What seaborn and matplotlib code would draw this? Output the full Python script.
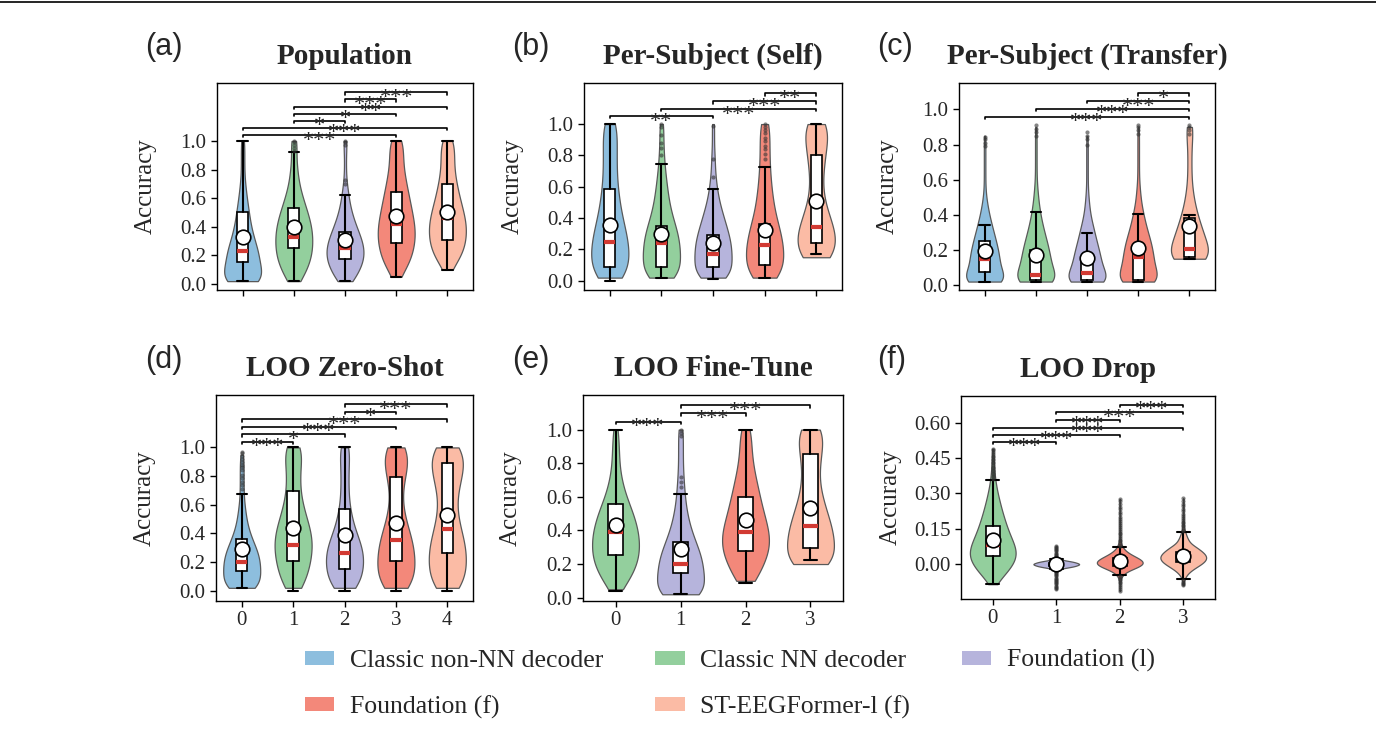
import numpy as np
import pandas as pd
import matplotlib
matplotlib.use("Agg")
import matplotlib.pyplot as plt
import seaborn as sns
from matplotlib.lines import Line2D
from matplotlib.patches import Patch

# ---------- style ----------
sns.set_theme(style="ticks")
plt.rcParams["font.family"] = ["Liberation Serif", "DejaVu Serif"]
plt.rcParams["axes.edgecolor"] = "black"
plt.rcParams["axes.linewidth"] = 1.0

# ---------- data ----------
group_names = ["Classic non-NN decoder", "Classic NN decoder", "Foundation (l)",
               "Foundation (f)", "ST-EEGFormer-l (f)"]
group_colors = ["#8dbede", "#93cf9d", "#b6b4dc", "#f3887a", "#fbbba5"]

# accuracy grid used for the violin shapes of panels a-e
acc_grid = [0.02, 0.05, 0.10, 0.15, 0.20, 0.25, 0.30, 0.35, 0.40, 0.45, 0.50,
            0.55, 0.60, 0.65, 0.70, 0.75, 0.80, 0.85, 0.90, 0.95, 1.00]

# (a) Population
pop_counts = [
    [30, 20, 20, 20, 20, 18, 14, 12, 10, 8, 8, 6, 5, 4, 3, 2, 2, 2, 2, 2, 3],
    [6, 8, 14, 17, 19, 20, 20, 20, 19, 17, 15, 12, 10, 7, 6, 4, 4, 3, 2, 3, 5],
    [6, 10, 15, 19, 20, 20, 18, 15, 12, 9, 7, 5, 4, 3, 2, 1, 1, 1, 1, 1, 3],
    [0, 4, 10, 14, 17, 18, 20, 20, 20, 18, 17, 15, 14, 12, 11, 9, 8, 7, 7, 7, 10],
    [0, 0, 4, 10, 15, 18, 19, 20, 20, 19, 17, 15, 13, 11, 10, 8, 7, 7, 7, 7, 9],
]
pop_q1 = [0.155, 0.255, 0.175, 0.29, 0.31]
pop_med = [0.23, 0.325, 0.25, 0.42, 0.46]
pop_q3 = [0.50, 0.53, 0.36, 0.64, 0.70]
pop_mean = [0.33, 0.40, 0.31, 0.475, 0.505]
pop_wlo = [0.02, 0.02, 0.02, 0.05, 0.10]
pop_whi = [1.00, 0.92, 0.62, 1.00, 1.00]
pop_fliers = [[], [0.93, 0.95, 0.97, 0.99, 1.0], [0.70, 0.73, 0.97, 0.99, 1.0], [], []]
pop_sig = [(0, 3, "***", 1.04), (0, 4, "***", 1.09), (1, 2, "*", 1.14), (1, 3, "*", 1.19),
           (1, 4, "**", 1.24), (2, 3, "***", 1.29), (2, 4, "***", 1.34)]

# (b) Per-Subject (Self)
self_counts = [
    [14, 18, 19, 20, 20, 19, 17, 15, 13, 11, 10, 9, 8, 7, 7, 7, 7, 7, 7, 7, 11],
    [14, 18, 20, 20, 20, 19, 18, 15, 12, 10, 8, 7, 6, 5, 4, 3, 3, 2, 2, 2, 3],
    [14, 18, 20, 20, 20, 19, 17, 14, 12, 9, 7, 5, 4, 3, 2, 2, 2, 1, 1, 1, 2],
    [13, 18, 20, 20, 20, 19, 17, 15, 12, 10, 9, 8, 7, 6, 6, 5, 5, 5, 5, 5, 7],
    [0, 0, 0, 24, 20, 20, 20, 17, 14, 11, 8, 7, 6, 6, 7, 8, 9, 10, 11, 12, 18],
]
self_q1 = [0.09, 0.09, 0.09, 0.10, 0.238]
self_med = [0.25, 0.243, 0.172, 0.225, 0.345]
self_q3 = [0.585, 0.35, 0.29, 0.36, 0.80]
self_mean = [0.357, 0.30, 0.238, 0.323, 0.51]
self_wlo = [0.0, 0.02, 0.01, 0.02, 0.17]
self_whi = [1.0, 0.745, 0.583, 0.728, 1.0]
self_fliers = [[], [0.80, 0.85, 0.88, 0.93, 0.98, 1.0], [0.66, 0.78, 0.99],
               [0.78, 0.81, 0.84, 0.86, 0.89, 0.91, 0.94, 0.96, 0.98, 1.0], []]
self_sig = [(0, 2, "**", 1.05), (1, 4, "***", 1.095), (2, 4, "***", 1.145), (3, 4, "**", 1.195)]

# (c) Per-Subject (Transfer)
trans_counts = [
    [30, 20, 20, 20, 18, 15, 12, 9, 6, 4, 2, 1, 1, 1, 1, 1, 1, 1, 0, 0, 0],
    [30, 20, 20, 19, 17, 14, 11, 8, 6, 4, 3, 2, 1, 1, 1, 1, 1, 1, 1, 0, 0],
    [30, 20, 20, 18, 16, 12, 10, 7, 4, 3, 2, 1, 1, 1, 1, 1, 1, 1, 0, 0, 0],
    [28, 20, 20, 20, 18, 16, 12, 9, 7, 4, 3, 2, 1, 1, 1, 1, 1, 1, 1, 0, 0],
    [0, 0, 0, 30, 19, 17, 14, 11, 8, 6, 4, 3, 2, 2, 2, 2, 2, 3, 5, 0, 0],
]
trans_q1 = [0.076, 0.03, 0.03, 0.03, 0.161]
trans_med = [0.148, 0.06, 0.07, 0.16, 0.205]
trans_q3 = [0.25, 0.20, 0.142, 0.20, 0.38]
trans_mean = [0.195, 0.17, 0.152, 0.209, 0.336]
trans_wlo = [0.02, 0.02, 0.02, 0.02, 0.146]
trans_whi = [0.34, 0.417, 0.298, 0.404, 0.40]
trans_fliers = [[0.79, 0.81, 0.83, 0.84],
                [0.85, 0.87, 0.89, 0.91],
                [0.80, 0.83, 0.85, 0.87],
                [0.86, 0.88, 0.90, 0.91],
                [0.86, 0.88, 0.90, 0.91]]
trans_sig = [(0, 4, "***", 0.958), (1, 4, "***", 1.002), (2, 4, "***", 1.047), (3, 4, "*", 1.091)]

# (d) LOO Zero-Shot
zs_counts = [
    [16, 18, 19, 20, 20, 18, 16, 11, 9, 6, 5, 4, 3, 2, 2, 2, 2, 2, 2, 2, 0],
    [9, 10, 14, 16, 18, 19, 20, 20, 19, 17, 14, 12, 10, 8, 7, 7, 7, 7, 8, 9, 14],
    [12, 15, 17, 19, 20, 20, 18, 16, 12, 9, 8, 6, 5, 4, 4, 4, 4, 4, 4, 5, 8],
    [14, 18, 20, 20, 20, 20, 19, 18, 15, 12, 10, 8, 7, 6, 6, 8, 10, 12, 13, 14, 18],
    [14, 17, 18, 19, 20, 20, 19, 18, 15, 13, 11, 10, 9, 9, 11, 13, 15, 17, 18, 18, 22],
]
zs_q1 = [0.139, 0.206, 0.15, 0.21, 0.26]
zs_med = [0.20, 0.32, 0.266, 0.354, 0.428]
zs_q3 = [0.36, 0.694, 0.567, 0.794, 0.89]
zs_mean = [0.29, 0.44, 0.387, 0.47, 0.528]
zs_wlo = [0.02, 0.0, 0.0, 0.0, 0.0]
zs_whi = [0.678, 1.0, 1.0, 1.0, 1.0]
zs_fliers = [[0.71, 0.74, 0.76, 0.79, 0.81, 0.84, 0.86, 0.88, 0.90, 0.92, 0.94, 0.96, 0.97],
             [], [], [], []]
zs_sig = [(0, 1, "***", 1.04), (0, 2, "*", 1.092), (0, 3, "***", 1.144), (0, 4, "***", 1.196),
          (2, 3, "*", 1.248), (2, 4, "***", 1.30)]

# (e) LOO Fine-Tune (groups 1-4)
ft_counts = [
    [0, 6, 11, 15, 18, 20, 20, 20, 19, 17, 15, 12, 9, 7, 5, 4, 3, 3, 3, 2, 3],
    [24, 18, 19, 20, 20, 18, 15, 12, 9, 7, 6, 4, 4, 3, 3, 2, 2, 2, 2, 2, 3],
    [0, 0, 10, 11, 15, 18, 20, 20, 19, 17, 15, 13, 12, 10, 9, 7, 6, 5, 5, 4, 6],
    [0, 0, 0, 0, 27, 20, 20, 20, 19, 17, 14, 12, 10, 8, 7, 7, 8, 9, 10, 10, 16],
]
ft_q1 = [0.252, 0.147, 0.278, 0.298]
ft_med = [0.389, 0.20, 0.389, 0.429]
ft_q3 = [0.556, 0.333, 0.60, 0.853]
ft_mean = [0.433, 0.288, 0.462, 0.536]
ft_wlo = [0.04, 0.024, 0.087, 0.222]
ft_whi = [1.0, 0.615, 1.0, 1.0]
ft_fliers = [[], [0.66, 0.69, 0.72, 0.96, 0.98, 1.0], [], []]
ft_sig = [(0, 1, "***", 1.048), (1, 2, "***", 1.097), (1, 3, "***", 1.145)]

# (f) LOO Drop (groups 1-4), each group on its own value grid
drop_vals = [
    [-0.085, -0.06, -0.035, -0.01, 0.015, 0.04, 0.065, 0.09, 0.115, 0.14, 0.165, 0.19,
     0.215, 0.24, 0.265, 0.29, 0.315, 0.34, 0.365, 0.39, 0.415, 0.44, 0.465, 0.49],
    [-0.107, -0.09, -0.07, -0.05, -0.035, -0.025, -0.015, -0.008, 0.0, 0.008, 0.015,
     0.025, 0.035, 0.05, 0.065, 0.078],
    [-0.114, -0.09, -0.07, -0.055, -0.04, -0.025, -0.01, 0.005, 0.02, 0.035, 0.05,
     0.065, 0.08, 0.10, 0.13, 0.16, 0.20, 0.24, 0.277],
    [-0.09, -0.07, -0.055, -0.04, -0.025, -0.01, 0.005, 0.02, 0.035, 0.05, 0.065,
     0.08, 0.10, 0.12, 0.14, 0.17, 0.20, 0.24, 0.28],
]
drop_counts = [
    [10, 35, 55, 78, 92, 100, 95, 85, 73, 63, 55, 48, 40, 34, 28, 22, 17, 12, 9, 7, 5, 4, 3, 3],
    [1, 1, 2, 2, 3, 8, 35, 75, 100, 75, 35, 8, 3, 2, 1, 1],
    [1, 2, 3, 6, 15, 40, 80, 100, 85, 55, 30, 15, 8, 5, 3, 2, 2, 1, 1],
    [1, 3, 8, 18, 35, 60, 85, 100, 100, 85, 65, 45, 30, 18, 10, 5, 3, 2, 1],
]
drop_q1 = [0.036, -0.006, -0.006, 0.007]
drop_med = [0.08, 0.0, 0.008, 0.03]
drop_q3 = [0.164, 0.006, 0.028, 0.05]
drop_mean = [0.104, 0.0, 0.012, 0.036]
drop_wlo = [-0.085, -0.02, -0.045, -0.064]
drop_whi = [0.356, 0.022, 0.071, 0.135]
drop_fliers = [
    [0.362, 0.368, 0.375, 0.381, 0.388, 0.394, 0.400, 0.407, 0.413, 0.420, 0.428,
     0.434, 0.441, 0.447, 0.455, 0.461, 0.468, 0.476, 0.483, 0.490],
    [-0.024, -0.029, -0.033, -0.038, -0.043, -0.047, -0.052, -0.057, -0.061, -0.066,
     -0.071, -0.076, -0.081, -0.086, -0.091, -0.097, -0.102, -0.107,
     0.026, 0.030, 0.035, 0.040, 0.044, 0.049, 0.054, 0.059, 0.064, 0.069, 0.074, 0.078],
    [0.076, 0.083, 0.090, 0.097, 0.104, 0.111, 0.118, 0.126, 0.133, 0.141, 0.149,
     0.157, 0.165, 0.174, 0.183, 0.192, 0.201, 0.211, 0.222, 0.233, 0.244, 0.256,
     0.267, 0.277, -0.050, -0.056, -0.062, -0.068, -0.075, -0.082, -0.089, -0.097,
     -0.105, -0.114],
    [0.141, 0.147, 0.153, 0.160, 0.167, 0.174, 0.181, 0.189, 0.197, 0.206, 0.215,
     0.224, 0.234, 0.245, 0.256, 0.268, 0.280, -0.069, -0.074, -0.079, -0.085, -0.090],
]
drop_sig = [(0, 1, "***", 0.52), (0, 2, "***", 0.55), (0, 3, "***", 0.58),
            (1, 2, "***", 0.612), (1, 3, "***", 0.645), (2, 3, "***", 0.676)]


def draw_panel(ax, members, vals, counts, q1, med, q3, mean, wlo, whi, fliers, sig,
               ylim, yticks, title, fmt):
    labels = [str(i) for i in range(len(members))]
    g_col, v_col = [], []
    for lab, v, c in zip(labels, vals, counts):
        rep = np.repeat(v, c)
        v_col.append(rep)
        g_col += [lab] * len(rep)
    df = pd.DataFrame({"g": g_col, "v": np.concatenate(v_col)})
    pal = [group_colors[m] for m in members]
    sns.violinplot(data=df, x="g", y="v", hue="g", order=labels, hue_order=labels,
                   palette=pal, legend=False, cut=0, inner=None, density_norm="width",
                   width=0.72, linewidth=0.9, linecolor="0.35", saturation=1,
                   bw_method=0.3, ax=ax)

    stats = []
    for i in range(len(members)):
        stats.append(dict(q1=q1[i], med=med[i], q3=q3[i], mean=mean[i],
                          whislo=wlo[i], whishi=whi[i], fliers=fliers[i]))
    ax.bxp(stats, positions=range(len(members)), widths=0.22, capwidths=0.2,
           patch_artist=True, showmeans=True, manage_ticks=False, zorder=3,
           boxprops=dict(facecolor="white", edgecolor="black", linewidth=1.2),
           medianprops=dict(color="#d23a33", linewidth=3),
           whiskerprops=dict(color="black", linewidth=1.5),
           capprops=dict(color="black", linewidth=1.5),
           meanprops=dict(marker="o", markerfacecolor="white", markeredgecolor="black",
                          markersize=10.5, markeredgewidth=1.2),
           flierprops=dict(marker="o", markersize=3, markerfacecolor="0.2",
                           markeredgecolor="none", alpha=0.6))

    tick_h = 0.011 * (ylim[1] - ylim[0])
    for i, j, lab, y in sig:
        ax.plot([i, i, j, j], [y - tick_h, y, y, y - tick_h], color="black", lw=1.2,
                zorder=4)
        ax.annotate(lab, xy=((i + j) / 2, y), xytext=(0, -7.5), textcoords="offset points",
                    ha="center", va="baseline", fontsize=16, zorder=5)

    ax.set_xlim(-0.5, len(members) - 0.5)
    ax.set_ylim(*ylim)
    ax.set_yticks(yticks)
    ax.set_yticklabels([fmt.format(t) for t in yticks])
    ax.set_xlabel("")
    ax.set_ylabel("Accuracy", fontsize=18)
    ax.yaxis.set_label_coords(-0.235, 0.5)
    ax.set_title(title, fontsize=21, fontweight="bold", pad=14)
    ax.tick_params(labelsize=15, length=4, width=1, color="black")
    for s in ax.spines.values():
        s.set_linewidth(1.0)


fig = plt.figure(figsize=(13.76, 7.29), dpi=100)
W, H = 1376, 729


def px_axes(left, top, width, height):
    return fig.add_axes([left / W, 1 - (top + height) / H, width / W, height / H])


ax_a = px_axes(217, 83, 256, 207)
ax_b = px_axes(584, 83, 258, 207)
ax_c = px_axes(959, 83, 256, 207)
ax_d = px_axes(216, 395, 257, 206)
ax_e = px_axes(583, 395, 260, 206)
ax_f = px_axes(961, 396, 254, 203)

acc_ticks = [0.0, 0.2, 0.4, 0.6, 0.8, 1.0]
five = [0, 1, 2, 3, 4]
four = [1, 2, 3, 4]

draw_panel(ax_a, five, [acc_grid] * 5, pop_counts, pop_q1, pop_med, pop_q3, pop_mean,
           pop_wlo, pop_whi, pop_fliers, pop_sig, (-0.042, 1.405), acc_ticks,
           "Population", "{:.1f}")
draw_panel(ax_b, five, [acc_grid] * 5, self_counts, self_q1, self_med, self_q3, self_mean,
           self_wlo, self_whi, self_fliers, self_sig, (-0.059, 1.262), acc_ticks,
           "Per-Subject (Self)", "{:.1f}")
draw_panel(ax_c, five, [acc_grid] * 5, trans_counts, trans_q1, trans_med, trans_q3,
           trans_mean, trans_wlo, trans_whi, trans_fliers, trans_sig, (-0.028, 1.15),
           acc_ticks, "Per-Subject (Transfer)", "{:.1f}")
draw_panel(ax_d, five, [acc_grid] * 5, zs_counts, zs_q1, zs_med, zs_q3, zs_mean,
           zs_wlo, zs_whi, zs_fliers, zs_sig, (-0.072, 1.366), acc_ticks,
           "LOO Zero-Shot", "{:.1f}")
draw_panel(ax_e, four, [acc_grid] * 4, ft_counts, ft_q1, ft_med, ft_q3, ft_mean,
           ft_wlo, ft_whi, ft_fliers, ft_sig, (-0.02, 1.206), acc_ticks,
           "LOO Fine-Tune", "{:.1f}")
draw_panel(ax_f, four, drop_vals, drop_counts, drop_q1, drop_med, drop_q3, drop_mean,
           drop_wlo, drop_whi, drop_fliers, drop_sig, (-0.148, 0.714),
           [0.0, 0.15, 0.30, 0.45, 0.60], "LOO Drop", "{:.2f}")

for ax in (ax_a, ax_b, ax_c):
    ax.tick_params(labelbottom=False)

# panel letters
for lab, x, y in [("(a)", 145, 47), ("(b)", 512, 47), ("(c)", 877, 47),
                  ("(d)", 145, 360), ("(e)", 512, 360), ("(f)", 877, 360)]:
    fig.text(x / W, 1 - y / H, lab, fontsize=22, family=["Liberation Sans", "DejaVu Sans"],
             ha="left", va="center")

# rule at the very top
fig.add_artist(Line2D([0, 1], [1 - 2 / H, 1 - 2 / H], transform=fig.transFigure,
                      color="black", lw=1.2))

# legend, row-wise order
order = [0, 3, 1, 4, 2]
handles = [Patch(facecolor=group_colors[k], edgecolor="none") for k in order]
fig.legend(handles, [group_names[k] for k in order], loc="center",
           bbox_to_anchor=(730 / W, 1 - 684 / H), ncol=3, frameon=False, fontsize=18.5,
           handlelength=1.15, handleheight=0.5, handletextpad=0.62, columnspacing=2.0,
           labelspacing=0.9)

fig.savefig("out.png", dpi=100)
